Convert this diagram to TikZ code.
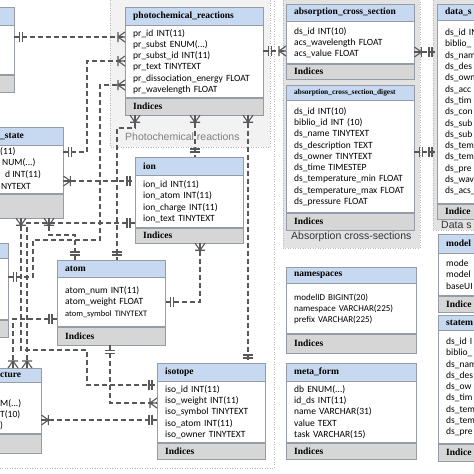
\documentclass[tikz,border=0pt]{standalone}
\usepackage{fontspec}
\usepackage{xcolor}
\usepackage{tikz}
\usetikzlibrary{positioning}
\usetikzlibrary{calc}
\usetikzlibrary{decorations.markings}

\newfontfamily\fieldFont{Carlito}
\newfontfamily\headFont{Liberation Serif}
\newfontfamily\groupFont{Liberation Sans}

\definecolor{headBlue}{RGB}{198,217,240}
\definecolor{tblBorder}{RGB}{150,156,166}
\definecolor{idxGray}{RGB}{214,214,214}
\definecolor{lineGray}{RGB}{88,88,88}
\definecolor{photoBack}{RGB}{242,242,242}
\definecolor{absBack}{RGB}{226,226,226}
\definecolor{dotGray}{RGB}{185,185,185}
\definecolor{labelGray}{RGB}{128,128,128}

\tikzset{
	tblHead/.style={
		draw=tblBorder,
		fill=headBlue,
		anchor=north west,
		inner xsep=8pt,
		inner ysep=0pt,
		minimum height=18pt,
		align=left,
		font=\headFont\bfseries\fontsize{9.5}{11}\selectfont
	},
	tblBody/.style={
		draw=tblBorder,
		fill=white,
		inner xsep=8pt,
		inner ysep=2pt,
		align=left,
		font=\fieldFont\fontsize{9.5}{11.3}\selectfont
	},
	tblIdx/.style={
		draw=tblBorder,
		fill=idxGray,
		inner xsep=8pt,
		inner ysep=0pt,
		minimum height=17pt,
		align=left,
		font=\headFont\bfseries\fontsize{9.5}{11}\selectfont
	},
	fieldText/.style={inner sep=0pt, anchor=west, font=\fieldFont\fontsize{9.5}{11.3}\selectfont},
	headText/.style={inner sep=0pt, anchor=west, font=\headFont\bfseries\fontsize{9.5}{11}\selectfont},
	groupBox/.style={draw=dotGray, line width=0.8pt, dash pattern=on 1pt off 1.5pt},
	groupLabel/.style={inner sep=0pt, anchor=west, font=\groupFont\fontsize{10.5}{12}\selectfont},
	relLine/.style={draw=lineGray, line width=1.1pt, dash pattern=on 5pt off 3pt},
	markLine/.style={solid, draw=lineGray, line width=1.1pt},
	oneStart/.style={postaction={decorate, decoration={markings, mark=at position 0 with {
		\draw[markLine] (5pt,-5pt) -- (5pt,5pt) (8pt,-5pt) -- (8pt,5pt);}}}},
	oneEnd/.style={postaction={decorate, decoration={markings, mark=at position 1 with {
		\draw[markLine] (-5pt,-5pt) -- (-5pt,5pt) (-8pt,-5pt) -- (-8pt,5pt);}}}},
	manyStart/.style={postaction={decorate, decoration={markings, mark=at position 0 with {
		\draw[markLine] (0pt,-5pt) -- (7pt,0pt) -- (0pt,5pt) (0pt,0pt) -- (7pt,0pt) (7pt,-5pt) -- (7pt,5pt);}}}},
	manyEnd/.style={postaction={decorate, decoration={markings, mark=at position 1 with {
		\draw[markLine] (0pt,-5pt) -- (-7pt,0pt) -- (0pt,5pt) (0pt,0pt) -- (-7pt,0pt) (-7pt,-5pt) -- (-7pt,5pt);}}}}
}

\begin{document}
\begin{tikzpicture}[x=1pt, y=-1pt]

	\useasboundingbox[fill=white] (0,0) rectangle (474,474);

	% groups
	\draw[groupBox] (-5,-5) rectangle (274,468);
	\filldraw[groupBox, fill=photoBack] (110,-5) rectangle (270,147);
	\filldraw[groupBox, fill=absBack] (283,-5) rectangle (420,248);
	\filldraw[groupBox, fill=absBack] (433,-5) rectangle (480,230);

	% left tables (cut by the edge)
	\node[tblHead, text width=98pt] (leftTopHead) at (-100,7) {};
	\node[tblBody, text width=98pt, minimum height=49pt, below=0pt of leftTopHead] (leftTop) {};
	\node[tblIdx, text width=98pt, below=0pt of leftTop] (leftTopIdx) {};

	\node[tblHead, text width=147pt] (stateHead) at (-100,127) {};
	\node[tblBody, text width=147pt, minimum height=48pt, below=0pt of stateHead] (state) {};
	\node[tblIdx, text width=147pt, minimum height=24pt, below=0pt of state] (stateIdx) {};
	\node[headText] (stateName) at (0,136) {\_state};
	\node[fieldText] (stateF1) at (0,152) {(11)};
	\node[fieldText] (stateF2) at (2,163) {NUM(...)};
	\node[fieldText] (stateF3) at (5,175) {d INT(11)};
	\node[fieldText] (stateF4) at (1,186) {NYTEXT};

	\node[tblHead, text width=92pt, minimum height=15pt] (leftMidHead) at (-100,243) {};
	\node[tblBody, text width=92pt, minimum height=61pt, below=0pt of leftMidHead] (leftMid) {};
	\node[tblIdx, text width=92pt, below=0pt of leftMid] (leftMidIdx) {};

	\node[tblHead, text width=125pt, minimum height=14pt] (structHead) at (-100,368) {};
	\node[tblBody, text width=125pt, minimum height=51pt, below=0pt of structHead] (struct) {};
	\node[tblIdx, text width=125pt, minimum height=19pt, below=0pt of struct] (structIdx) {};
	\node[headText] (structName) at (0,375) {cture};
	\node[fieldText] (structF2) at (0,404) {M(...)};
	\node[fieldText] (structF3) at (0,415) {T(10)};
	\node[fieldText] (structF4) at (0,426) {)};

	% photochemical reactions
	\node[tblHead, text width=122pt] (photoHead) at (125,7) {photochemical\_reactions};
	\node[
		tblBody,
		text width=122pt,
		minimum height=72pt,
		below=0pt of photoHead
	] (photo) {pr\_id INT(11)\\pr\_subst ENUM(...)\\pr\_subst\_id  INT(11)\\pr\_text  TINYTEXT\\pr\_dissociation\_energy  FLOAT\\pr\_wavelength FLOAT};
	\node[tblIdx, text width=122pt, below=0pt of photo] (photoIdx) {Indices};

	% ion
	\node[tblHead, text width=92pt] (ionHead) at (135,157) {ion};
	\node[
		tblBody,
		text width=92pt,
		minimum height=52pt,
		below=0pt of ionHead
	] (ion) {ion\_id INT(11)\\ion\_atom INT(11)\\ion\_charge INT(11)\\ion\_text TINYTEXT};
	\node[tblIdx, text width=92pt, minimum height=15pt, below=0pt of ion] (ionIdx) {Indices};

	% atom
	\node[tblHead, text width=92pt, minimum height=17pt] (atomHead) at (57,260) {atom};
	\node[
		tblBody,
		text width=92pt,
		minimum height=49pt,
		below=0pt of atomHead
	] (atom) {atom\_num INT(11)\\atom\_weight  FLOAT\\{\fontsize{8.4}{11.3}\selectfont atom\_symbol TINYTEXT}};
	\node[tblIdx, text width=92pt, minimum height=18pt, below=0pt of atom] (atomIdx) {Indices};

	% isotope
	\node[tblHead, text width=92pt] (isoHead) at (157,363) {isotope};
	\node[
		tblBody,
		text width=92pt,
		minimum height=61pt,
		below=0pt of isoHead
	] (iso) {iso\_id INT(11)\\iso\_weight  INT(11)\\iso\_symbol  TINYTEXT\\iso\_atom INT(11)\\iso\_owner  TINYTEXT};
	\node[tblIdx, text width=92pt, minimum height=16pt, below=0pt of iso] (isoIdx) {Indices};

	% absorption cross-sections
	\node[tblHead, text width=112pt, minimum height=17pt] (absHead) at (286,4) {absorption\_cross\_section};
	\node[
		tblBody,
		text width=112pt,
		minimum height=42pt,
		below=0pt of absHead
	] (abs) {ds\_id INT(10)\\acs\_wavelength FLOAT\\acs\_value FLOAT};
	\node[tblIdx, text width=112pt, minimum height=15pt, below=0pt of abs] (absIdx) {Indices};

	\node[
		tblHead,
		text width=112pt,
		minimum height=15pt,
		font=\headFont\bfseries\fontsize{7.4}{9}\selectfont
	] (digestHead) at (286,85) {absorption\_cross\_section\_digest};
	\node[
		tblBody,
		text width=112pt,
		minimum height=112pt,
		below=0pt of digestHead
	] (digest) {ds\_id INT(10)\\biblio\_id  INT (10)\\ds\_name TINYTEXT\\ds\_description TEXT\\ds\_owner  TINYTEXT\\ds\_time TIMESTEP\\ds\_temperature\_min FLOAT\\ds\_temperature\_max FLOAT\\ds\_pressure FLOAT};
	\node[tblIdx, text width=112pt, below=0pt of digest] (digestIdx) {Indices};

	% namespaces, meta_form
	\node[tblHead, text width=114pt, minimum height=16pt] (nsHead) at (286,267) {namespaces};
	\node[
		tblBody,
		text width=114pt,
		minimum height=50pt,
		font=\fieldFont\fontsize{9}{11}\selectfont,
		below=0pt of nsHead
	] (ns) {modelID BIGINT(20)\\namespace  VARCHAR(225)\\prefix VARCHAR(225)};
	\node[tblIdx, text width=114pt, minimum height=19pt, below=0pt of ns] (nsIdx) {Indices};

	\node[tblHead, text width=114pt] (metaHead) at (286,363) {meta\_form};
	\node[
		tblBody,
		text width=114pt,
		minimum height=61pt,
		below=0pt of metaHead
	] (meta) {db ENUM(...)\\id\_ds INT(11)\\name VARCHAR(31)\\value TEXT\\task VARCHAR(15)};
	\node[tblIdx, text width=114pt, minimum height=16pt, below=0pt of meta] (metaIdx) {Indices};

	% right tables (cut by the edge)
	\node[tblHead, text width=84pt, minimum height=16pt] (dataHead) at (437,4) {data\_s};
	\node[
		tblBody,
		text width=84pt,
		minimum height=183pt,
		below=0pt of dataHead
	] (data) {ds\_id IN\\biblio\_\\ds\_nam\\ds\_des\\ds\_own\\ds\_acc\\ds\_tim\\ds\_con\\ds\_sub\\ds\_sub\\ds\_tem\\ds\_tem\\ds\_pre\\ds\_wav\\ds\_acs\_};
	\node[tblIdx, text width=84pt, minimum height=15pt, below=0pt of data] (dataIdx) {Indice};

	\node[tblHead, text width=84pt, minimum height=19pt] (modelHead) at (438,234) {model};
	\node[tblBody, text width=84pt, minimum height=42pt, below=0pt of modelHead] (model) {mode\\model\\baseUI};
	\node[tblIdx, text width=84pt, minimum height=16pt, below=0pt of model] (modelIdx) {Indice};

	\node[tblHead, text width=84pt, minimum height=15pt] (stmtHead) at (438,315) {statem};
	\node[
		tblBody,
		text width=84pt,
		minimum height=113pt,
		below=0pt of stmtHead
	] (stmt) {ds\_id I\\biblio\_\\ds\_nam\\ds\_des\\ds\_ow\\ds\_tim\\ds\_tem\\ds\_tem\\ds\_pre};
	\node[tblIdx, text width=84pt, below=0pt of stmt] (stmtIdx) {Indice};

	% group labels
	\node[groupLabel, text=labelGray] (photoLabel) at (125,137) {Photochemical reactions};
	\node[groupLabel, text=black!80] (absLabel) at (291,237) {Absorption cross-sections};
	\node[groupLabel, text=black!80] (dataLabel) at (441,225) {Data s};

	% relations
	\draw[relLine, oneStart, manyEnd] (leftTop.east |- 0,37) -- (photo.west |- 0,37);
	\draw[relLine, oneStart, manyEnd] (state.east |- 0,152) -| (87,61) -- (photo.west |- 0,61);
	\draw[relLine, manyStart, oneEnd] (photo.west |- 0,85) -| (100,240) -| (33,277) -- (leftMid.east |- 0,277);
	\draw[relLine, manyStart, oneEnd] (state.east |- 0,181) -- (ion.west |- 0,181);
	\draw[relLine, manyStart, oneEnd] (stateIdx.south -| 49,0) |- (75,235) -- (atomHead.north -| 75,0);
	\draw[relLine, manyStart, oneEnd] (stateIdx.south -| 21,0) |- (87,350) |- (iso.west |- 0,385);
	\draw[relLine, manyStart, oneEnd] (structHead.north -| 27,0) |- (ion.west |- 0,223);
	\draw[relLine, manyStart, oneEnd] (structHead.north -| 13,0) |- (atom.west |- 0,319);
	\draw[relLine, manyStart, oneEnd] (struct.east |- 0,420) -- (iso.west |- 0,420);
	\draw[relLine, oneStart, manyEnd] (atomIdx.south -| 110,0) |- (iso.west |- 0,403);
	\draw[relLine, manyStart, oneEnd] (photoIdx.south -| 135,0) |- (117,128) -- (atomHead.north -| 117,0);
	\draw[relLine, manyStart, oneEnd] (photoIdx.south -| 195,0) -- (ionHead.north -| 195,0);
	\draw[relLine, manyStart, oneEnd] (photoIdx.south -| 248,0) -- (isoHead.north -| 248,0);
	\draw[relLine, manyStart, oneEnd] (ionIdx.south -| 200,0) |- (atom.east |- 0,302);
	\draw[relLine, oneStart, manyEnd] (photo.east |- 0,51) -- (abs.west |- 0,51);
	\draw[relLine, manyStart, oneEnd] (abs.east |- 0,52) -- (data.west |- 0,52);
	\draw[relLine, oneStart, oneEnd] (digest.east |- 0,152) -- (data.west |- 0,152);

\end{tikzpicture}
\end{document}
